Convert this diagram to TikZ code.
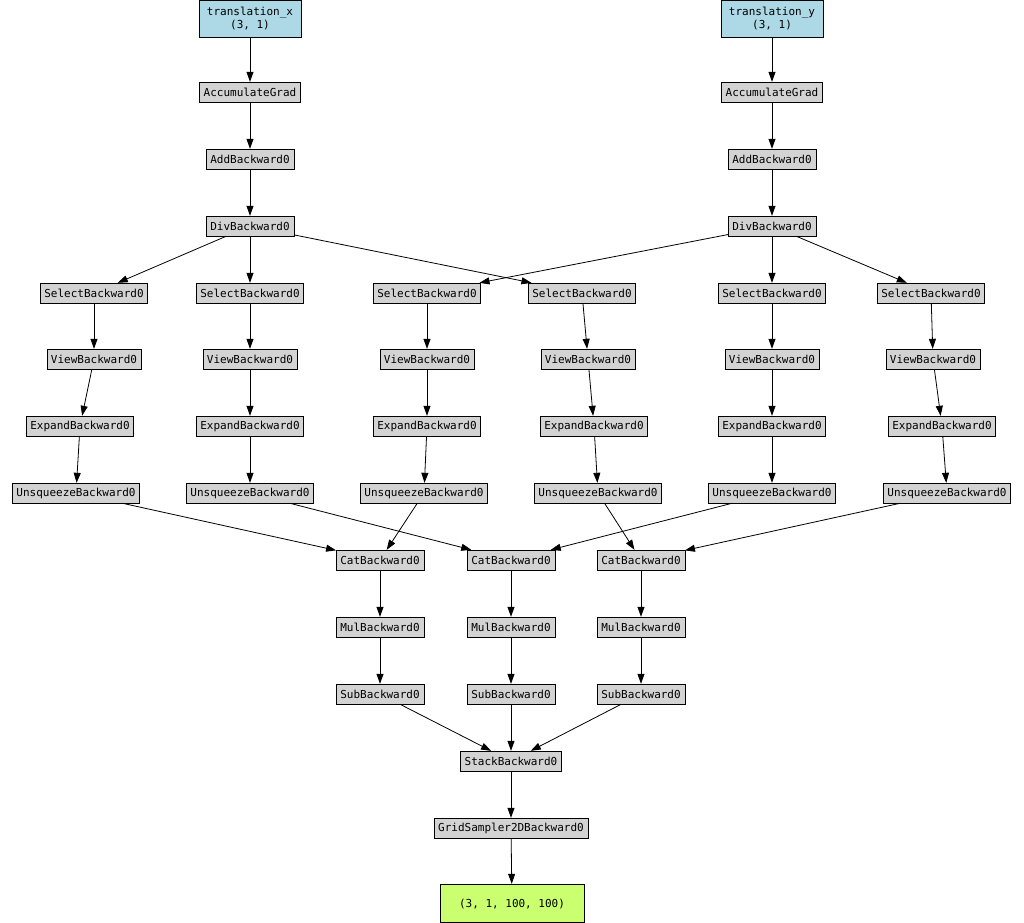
\documentclass[tikz,border=0pt]{standalone}
\usepackage{fontspec}
\setmonofont{DejaVu Sans Mono}
\usetikzlibrary{arrows.meta}
\begin{document}
\begin{tikzpicture}[x=1pt,y=-1pt,
 op/.style={draw,fill={rgb,255:red,211;green,211;blue,211},font=\ttfamily\fontsize{11}{13}\selectfont,minimum height=20pt,inner xsep=4pt,inner ysep=2pt},
 leaf/.style={op,fill={rgb,255:red,173;green,216;blue,230},align=center,minimum height=37pt,inner xsep=8pt},
 outb/.style={op,fill={rgb,255:red,202;green,255;blue,112},minimum height=38pt,minimum width=144pt,text depth=-8pt},
 e/.style={-{Triangle[length=10pt,width=7pt]},line width=0.8pt}]
\useasboundingbox (0,0) rectangle (1024,922);
\node[leaf] (tx) at (250,19) {translation\_x\\(3, 1)};
\node[leaf] (ty) at (772,19) {translation\_y\\(3, 1)};
\node[op] (ax) at (250,92) {AccumulateGrad};
\node[op] (ay) at (772,92) {AccumulateGrad};
\node[op] (adx) at (250,159) {AddBackward0};
\node[op] (ady) at (772,159) {AddBackward0};
\node[op] (dx) at (250,226) {DivBackward0};
\node[op] (dy) at (772,226) {DivBackward0};
\foreach \i/\s/\v/\e/\u in {0/94/94/80/76,1/250/250/250/250,2/427/427/427/424,3/582/588/594/598,4/772/772/772/772,5/931/933/942/947}{
 \node[op] (s\i) at (\s,293) {SelectBackward0};
 \node[op] (v\i) at (\v,359) {ViewBackward0};
 \node[op] (x\i) at (\e,426) {ExpandBackward0};
 \node[op] (u\i) at (\u,493) {UnsqueezeBackward0};
 \draw[e] (s\i) -- (v\i); \draw[e] (v\i) -- (x\i); \draw[e] (x\i) -- (u\i);
}
\foreach \i/\c in {0/380,1/511,2/641}{
 \node[op] (c\i) at (\c,560) {CatBackward0};
 \node[op] (m\i) at (\c,627) {MulBackward0};
 \node[op] (b\i) at (\c,694) {SubBackward0};
 \draw[e] (c\i) -- (m\i); \draw[e] (m\i) -- (b\i);
}
\node[op] (st) at (511,761) {StackBackward0};
\node[op] (gs) at (511,828) {GridSampler2DBackward0};
\node[outb] (out) at (512,903) {(3, 1, 100, 100)};
\draw[e] (tx) -- (ax); \draw[e] (ty) -- (ay);
\draw[e] (ax) -- (adx); \draw[e] (ay) -- (ady);
\draw[e] (adx) -- (dx); \draw[e] (ady) -- (dy);
\draw[e] (dx) -- (s0); \draw[e] (dx) -- (s1); \draw[e] (dx) -- (s3);
\draw[e] (dy) -- (s2); \draw[e] (dy) -- (s4); \draw[e] (dy) -- (s5);
\draw[e] (u0) -- (c0); \draw[e] (u1) -- (c1); \draw[e] (u2) -- (c0);
\draw[e] (u3) -- (c2); \draw[e] (u4) -- (c1); \draw[e] (u5) -- (c2);
\draw[e] (b0) -- (st); \draw[e] (b1) -- (st); \draw[e] (b2) -- (st);
\draw[e] (st) -- (gs); \draw[e] (gs) -- (out);
\end{tikzpicture}
\end{document}
